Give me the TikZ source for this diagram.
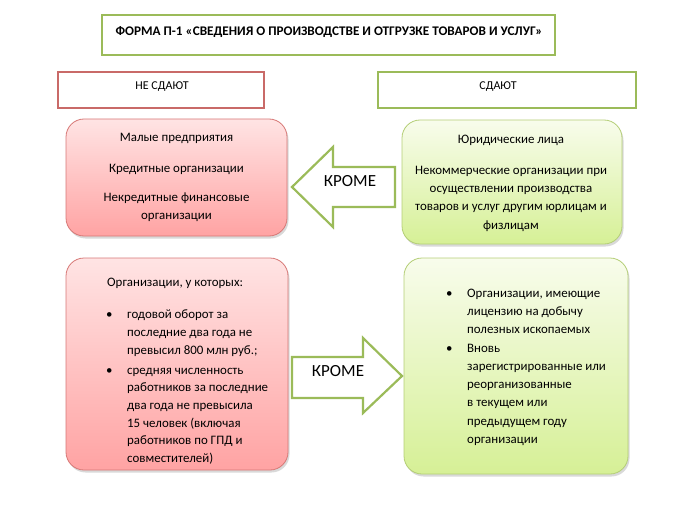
\documentclass[tikz,border=0pt]{standalone}
\usepackage{fontspec}
\setmainfont{Carlito}
\usetikzlibrary{shadows}
\definecolor{olgreen}{HTML}{9BBB59}
\definecolor{brick}{HTML}{C0504D}
\definecolor{pinktop}{RGB}{255,228,228}
\definecolor{pinkbot}{RGB}{255,163,163}
\definecolor{pinkline}{RGB}{215,120,118}
\definecolor{lgtop}{RGB}{248,252,236}
\definecolor{lgbot}{RGB}{214,240,150}
\definecolor{lgline}{RGB}{180,206,118}
\tikzset{
  hdrbox/.style={draw, line width=2.6pt, fill=white, inner sep=0pt},
  softshadow/.style={drop shadow={shadow xshift=1.5pt, shadow yshift=-2.5pt, opacity=0.3}},
  pinkbox/.style={draw=pinkline, line width=0.8pt, rounded corners=18pt, top color=pinktop, bottom color=pinkbot, softshadow, inner sep=0pt},
  greenbox/.style={draw=lgline, line width=0.8pt, rounded corners=18pt, top color=lgtop, bottom color=lgbot, softshadow, inner sep=0pt},
  body/.style={font=\fontsize{12.9}{18}\selectfont, inner sep=0pt},
  hdrtext/.style={font=\fontsize{12}{14}\selectfont, inner sep=0pt},
  arrowshape/.style={draw=olgreen, line width=2.2pt, fill=white, line join=miter},
  krome/.style={font=\fontsize{17}{18}\selectfont, inner sep=0pt},
}
\begin{document}
\begin{tikzpicture}[x=1pt,y=-1pt]
\useasboundingbox (0,0) rectangle (676,505);

% header boxes
\node[hdrbox, draw=olgreen, minimum width=453pt, minimum height=40pt] (title) at (328.5,35) {};
\node[hdrtext, font=\fontsize{13.2}{14}\selectfont\bfseries, anchor=base] (titletext) at (329,35.5)
  {ФОРМА П-1 «СВЕДЕНИЯ О ПРОИЗВОДСТВЕ И ОТГРУЗКЕ ТОВАРОВ И УСЛУГ»};

\node[hdrbox, draw=brick!85, minimum width=206pt, minimum height=36pt] (nesdayut) at (161,90) {};
\node[hdrtext, anchor=base] (nesdayuttext) at (162,89.5) {НЕ СДАЮТ};

\node[hdrbox, draw=olgreen, minimum width=258pt, minimum height=36pt] (sdayut) at (507,90) {};
\node[hdrtext, anchor=base] (sdayuttext) at (498,89.5) {СДАЮТ};

% top boxes
\node[pinkbox, minimum width=221pt, minimum height=117pt] (tl) at (176.5,177.5) {};
\node[body, anchor=base] (tl1) at (176.5,141.5) {Малые предприятия};
\node[body, anchor=base] (tl2) at (176.5,172) {Кредитные организации};
\node[body, anchor=base, align=center] (tl3) at (176.5,219.5) {Некредитные финансовые\\организации};

\node[greenbox, minimum width=220pt, minimum height=124pt] (tr) at (512,182) {};
\node[body, anchor=base] (tr1) at (511,143) {Юридические лица};
\node[body, font=\fontsize{12.9}{18.3}\selectfont, anchor=base, align=center] (tr2) at (511,229)
  {Некоммерческие организации при\\осуществлении производства\\товаров и услуг другим юрлицам и\\физлицам};

% bottom boxes
\node[pinkbox, minimum width=222pt, minimum height=212pt] (bl) at (177,364) {};
\node[body, anchor=base west] (bl0) at (107,286) {Организации, у которых:};
\node[body, anchor=base west] (blb1) at (106,318) {\textbullet};
\node[body, anchor=base west, align=left] (bl1) at (127,354)
  {годовой оборот за\\последние два года не\\превысил 800 млн руб.;};
\node[body, anchor=base west] (blb2) at (106,374) {\textbullet};
\node[body, font=\fontsize{12.9}{17.7}\selectfont, anchor=base west, align=left] (bl2) at (127,462.5)
  {средняя численность\\работников за последние\\два года не превысила\\15 человек (включая\\работников по ГПД и\\совместителей)};

\node[greenbox, minimum width=224pt, minimum height=216pt] (br) at (516,366) {};
\node[body, anchor=base west] (brb1) at (446,297) {\textbullet};
\node[body, font=\fontsize{12.9}{18.25}\selectfont, anchor=base west, align=left] (br1) at (467,333.5)
  {Организации, имеющие\\лицензию на добычу\\полезных ископаемых};
\node[body, anchor=base west] (brb2) at (446,352) {\textbullet};
\node[body, font=\fontsize{12.9}{18.25}\selectfont, anchor=base west, align=left] (br2) at (467,443.25)
  {Вновь\\зарегистрированные или\\реорганизованные\\в текущем или\\предыдущем году\\организации};

% arrows
\draw[arrowshape] (292,187) -- (333,147) -- (333,167) -- (395,167) -- (395,207)
  -- (333,207) -- (333,227) -- cycle;
\node[krome, anchor=base] (krome1) at (350,186) {КРОМЕ};

\draw[arrowshape] (292,357) -- (363,357) -- (363,338) -- (402,376) -- (363,413)
  -- (363,398) -- (292,398) -- cycle;
\node[krome, anchor=base] (krome2) at (338,376) {КРОМЕ};
\end{tikzpicture}
\end{document}
